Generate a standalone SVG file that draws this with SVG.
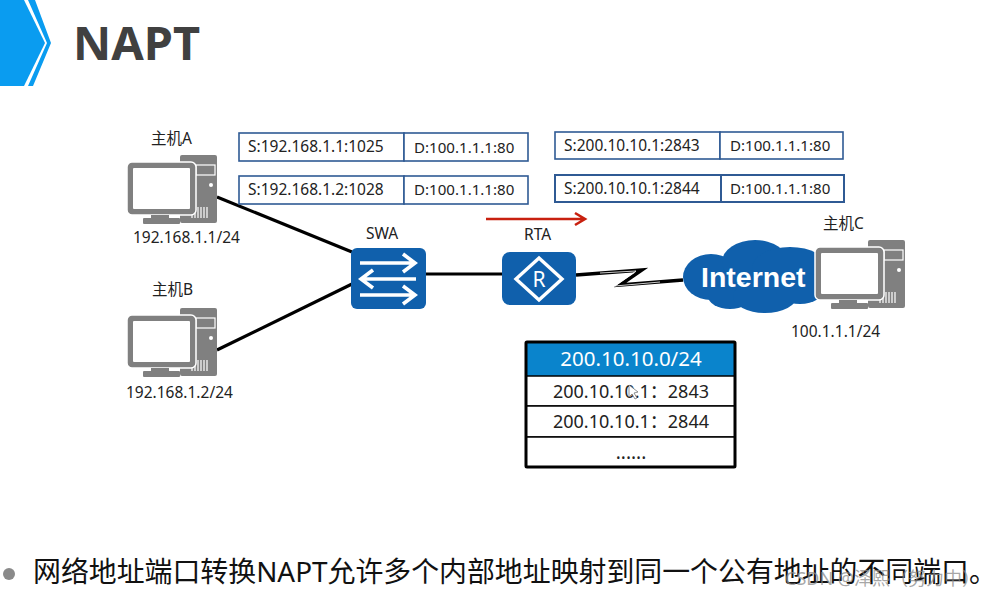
<svg xmlns="http://www.w3.org/2000/svg" xmlns:xlink="http://www.w3.org/1999/xlink" width="999" height="598" viewBox="0 0 999 598">
<style>
text{font-family:"Noto Sans","Noto Sans CJK SC",sans-serif;fill:#222}
.lab{font-size:15.5px}
.dst{font-size:15.1px}
.cell{fill:#fff;stroke:#2f5a94;stroke-width:1.6}
.cg{fill:#808080}
.link{fill:none;stroke:#000;stroke-width:3.2}
.row{fill:#fff;stroke:#000;stroke-width:1.5}
.tt{font-size:18px;text-anchor:middle}
.cloud{fill:#1060ac}
</style>
<defs>
<g id="pc">
<rect x="53" y="0" width="37" height="68" rx="2" class="cg"/>
<rect x="69" y="10" width="19" height="10" fill="none" stroke="#fff" stroke-width="1.2"/>
<circle cx="84" cy="30" r="2" fill="#fff"/>
<path d="M65 52v11M68 52v11M71 52v11M74 52v11M77 52v11M80 52v11" stroke="#fff" stroke-width="1.2"/>
<rect x="0" y="7" width="69" height="53" rx="5" class="cg" stroke="#fff" stroke-width="1.5"/>
<rect x="6" y="13" width="57" height="41" rx="1" fill="#fff"/>
<rect x="24" y="60" width="18" height="5" class="cg"/>
<rect x="16" y="63" width="37" height="6" rx="1" class="cg"/>
</g>
</defs>
<rect width="999" height="598" fill="#fff"/>
<g id="header">
<polygon points="0,0 24,0 45,43 24,86 0,86" fill="#0a9cf0"/>
<polygon points="28,0 35,0 51,43 33,86 28,86 47,43" fill="#0a9cf0"/>
<text x="73" y="60" font-size="47" font-weight="700" style="fill:#404040">NAPT</text>
</g>
<g id="connectors">
<path class="link" d="M217 197L352 252"/>
<path class="link" d="M217 350L352 284"/>
<path class="link" d="M425 274H502"/>
<path d="M576 275L642 270L620 285L683 280" fill="none" stroke="#000" stroke-width="3.4"/>
<path d="M600 273L636 271L615 286L660 282" fill="none" stroke="#fff" stroke-width="0.8"/>
<path d="M486 219H584M575 213L585 219L575 225" fill="none" stroke="#c8200f" stroke-width="2.6"/>
</g>
<g id="hostA">
<use xlink:href="#pc" href="#pc" transform="translate(127,155)"/>
<text class="lab" x="151" y="144">主机A</text>
<text class="lab" x="133" y="243">192.168.1.1/24</text>
</g>
<g id="hostB">
<use xlink:href="#pc" href="#pc" transform="translate(127,308)"/>
<text class="lab" x="152" y="295">主机B</text>
<text class="lab" x="126" y="398">192.168.1.2/24</text>
</g>
<g id="SWA">
<text class="lab" x="366" y="239">SWA</text>
<rect x="351" y="248" width="75" height="61" rx="6" fill="#1060ac"/>
<path d="M360 263H414M403 254L415 263L403 272M416 279H361M373 270L361 279L373 288M360 295H414M403 286L415 295L403 304" fill="none" stroke="#fff" stroke-width="3.6"/>
</g>
<g id="RTA">
<text class="lab" x="524" y="240">RTA</text>
<rect x="502" y="252" width="74" height="53" rx="8" fill="#1060ac"/>
<polygon points="539,258 562,279 539,300 516,279" fill="none" stroke="#fff" stroke-width="3.4"/>
<text x="539" y="287" font-size="21" text-anchor="middle" style="fill:#fff">R</text>
</g>
<g id="Internet">
<ellipse class="cloud" cx="711" cy="277" rx="28" ry="23"/>
<ellipse class="cloud" cx="755" cy="262" rx="33" ry="22"/>
<ellipse class="cloud" cx="790" cy="268" rx="38" ry="21"/>
<ellipse class="cloud" cx="730" cy="296" rx="22" ry="13"/>
<ellipse class="cloud" cx="765" cy="296" rx="32" ry="17"/>
<ellipse class="cloud" cx="800" cy="288" rx="25" ry="16"/>
<text x="701" y="287" font-size="28.5" font-weight="700" style="fill:#fff;font-family:'Liberation Sans',sans-serif">Internet</text>
</g>
<g id="hostC">
<use xlink:href="#pc" href="#pc" transform="translate(815,240)"/>
<text class="lab" x="823" y="229">主机C</text>
<text class="lab" x="791" y="337">100.1.1.1/24</text>
</g>
<g id="packet1">
<rect class="cell" x="239" y="133" width="165" height="28"/><rect class="cell" x="404" y="133" width="124" height="28"/>
<text class="lab" x="248" y="152">S:192.168.1.1:1025</text><text class="dst" x="414" y="153">D:100.1.1.1:80</text>
</g>
<g id="packet2">
<rect class="cell" x="239" y="176" width="165" height="28"/><rect class="cell" x="404" y="176" width="124" height="28"/>
<text class="lab" x="248" y="195">S:192.168.1.2:1028</text><text class="dst" x="414" y="195">D:100.1.1.1:80</text>
</g>
<g id="packet3">
<rect class="cell" x="555" y="132" width="165" height="27"/><rect class="cell" x="720" y="132" width="123" height="27"/>
<text class="lab" x="564" y="151">S:200.10.10.1:2843</text><text class="dst" x="730" y="151">D:100.1.1.1:80</text>
</g>
<g id="packet4">
<rect class="cell" x="555" y="175" width="166" height="27" style="stroke-width:2"/><rect class="cell" x="721" y="175" width="123" height="27" style="stroke-width:2"/>
<text class="lab" x="564" y="194">S:200.10.10.1:2844</text><text class="dst" x="730" y="194">D:100.1.1.1:80</text>
</g>
<g id="natTable">
<rect x="526" y="342" width="209" height="34" fill="#0a84cc"/>
<rect class="row" x="526" y="376" width="209" height="30"/>
<rect class="row" x="526" y="406" width="209" height="31"/>
<rect class="row" x="526" y="437" width="209" height="30"/>
<rect x="526" y="342" width="209" height="125" fill="none" stroke="#000" stroke-width="3" rx="1"/>
<text class="tt" x="631" y="366" style="fill:#fff;font-size:20.5px">200.10.10.0/24</text>
<text class="tt" x="631" y="398">200.10.10.1：2843</text>
<text class="tt" x="631" y="428">200.10.10.1：2844</text>
<text class="tt" x="631" y="459" style="font-size:19px">......</text>
<polygon points="629,385 629,397 632,394 635,399 637,398 634,393 638,392" fill="#fff" stroke="#777" stroke-width="0.8"/>
</g>
<g id="caption">
<circle cx="9" cy="574" r="6" fill="#8a8a8a"/>
<text x="33" y="582" font-size="27.9" style="fill:#111">网络地址端口转换NAPT允许多个内部地址映射到同一个公有地址的不同端口。</text>
<text x="785" y="585" font-size="18" style="fill:#8a8a8a;fill-opacity:.75">CSDN @泽熙（努力中）</text>
</g>
</svg>
